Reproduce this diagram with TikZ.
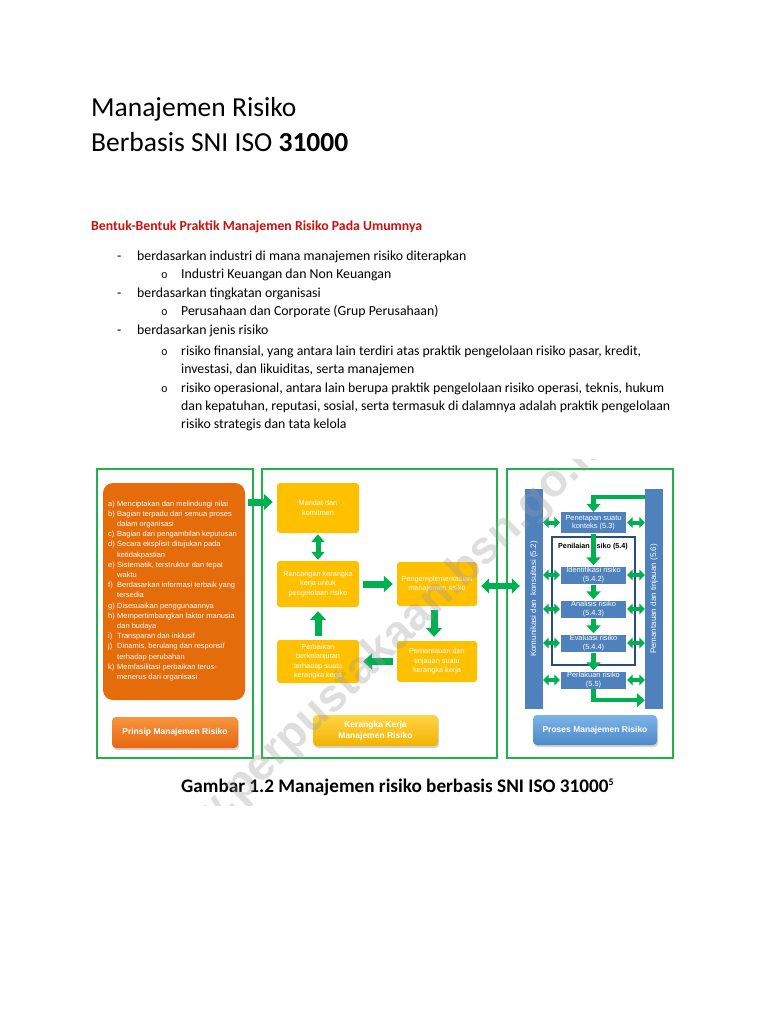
\documentclass[tikz,border=0pt]{standalone}
\usepackage{fontspec}
\setmainfont{Carlito}
\newfontfamily\arialf{Liberation Sans}
\newfontfamily\monof{Liberation Mono}
\usetikzlibrary{arrows.meta,shadows,calc}
\definecolor{grn}{HTML}{00B050}
\definecolor{gframec}{HTML}{22B24C}
\definecolor{orng}{HTML}{E46C0A}
\definecolor{yel}{HTML}{FFC000}
\definecolor{blu}{HTML}{4F81BD}
\definecolor{frmc}{HTML}{2B4C7E}
\definecolor{redh}{HTML}{CC1111}
\definecolor{otop}{HTML}{F8953F}
\definecolor{obot}{HTML}{E8650F}
\definecolor{ytop}{HTML}{FFD447}
\definecolor{ybot}{HTML}{F2B300}
\definecolor{btop}{HTML}{7DB3E8}
\definecolor{bbot}{HTML}{4C89C9}
\tikzset{
 gframe/.style={draw=gframec, line width=1.5pt, inner sep=0},
 ybox/.style={fill=yel, rounded corners=3pt, inner sep=0, text=white, align=center, font=\arialf\fontsize{7.3}{9.4}\selectfont},
 bbox/.style={fill=blu, inner sep=0, minimum width=65pt, minimum height=17pt, text=white, align=center, font=\arialf\fontsize{7.4}{8.2}\selectfont},
 bar/.style={fill=blu, minimum width=18pt, minimum height=220pt, inner sep=0},
 btn/.style={rounded corners=4pt, inner sep=0, text=white, align=center, font=\arialf\bfseries\fontsize{8.5}{11}\selectfont, drop shadow={shadow xshift=1.2pt, shadow yshift=-2pt, opacity=0.35}},
 bigarrow/.style={draw=grn, line width=7pt, -{Triangle[width=16pt,length=9pt]}},
 bigdouble/.style={draw=grn, line width=5pt, {Triangle[width=13pt,length=8pt]}-{Triangle[width=13pt,length=8pt]}},
 smallarrow/.style={draw=grn, line width=5pt, -{Triangle[width=14pt,length=8pt]}},
 smalldouble/.style={draw=grn, line width=4pt, {Triangle[width=11pt,length=5.5pt]}-{Triangle[width=11pt,length=5.5pt]}},
 body/.style={anchor=base west, inner sep=0, font=\fontsize{13.8}{16}\selectfont},
 bul/.style={anchor=base west, inner sep=0, font=\monof\fontsize{11}{13}\selectfont},
 otext/.style={anchor=base west, inner sep=0, text=white, font=\arialf\fontsize{7.5}{9}\selectfont},
}
\newcommand\olin[4]{\node[otext] (ol#1) at (108,#2) {\makebox[9pt][l]{#3}#4};}
\begin{document}
\begin{tikzpicture}[x=1pt,y=-1pt]
\useasboundingbox (0,0) rectangle (768,1024);
\fill[white] (0,0) rectangle (768,1024);

% ---------- text ----------
\node[body] (t1) at (91,117) {\fontsize{27.5}{30}\selectfont Manajemen Risiko};
\node[body] (t2) at (91,152) {\fontsize{27.5}{30}\selectfont Berbasis SNI ISO \textbf{31000}};
\node[body, text=redh] (hd) at (91,231) {\bfseries Bentuk-Bentuk Praktik Manajemen Risiko Pada Umumnya};

\node[body] (d1) at (117,260) {-};
\node[body] (l1) at (137,260) {berdasarkan industri di mana manajemen risiko diterapkan};
\node[bul] (b1) at (161,278) {o};
\node[body] (s1) at (181,278) {Industri Keuangan dan Non Keuangan};
\node[body] (d2) at (117,297) {-};
\node[body] (l2) at (137,297) {berdasarkan tingkatan organisasi};
\node[bul] (b2) at (161,315) {o};
\node[body] (s2) at (181,315) {Perusahaan dan Corporate (Grup Perusahaan)};
\node[body] (d3) at (117,334) {-};
\node[body] (l3) at (137,334) {berdasarkan jenis risiko};
\node[bul] (b3) at (161,355) {o};
\node[body] (s3) at (181,355) {risiko finansial, yang antara lain terdiri atas praktik pengelolaan risiko pasar, kredit,};
\node[body] (s3b) at (181,373) {investasi, dan likuiditas, serta manajemen};
\node[bul] (b4) at (161,392) {o};
\node[body] (s4) at (181,392) {risiko operasional, antara lain berupa praktik pengelolaan risiko operasi, teknis, hukum};
\node[body] (s4b) at (181,410) {dan kepatuhan, reputasi, sosial, serta termasuk di dalamnya adalah praktik pengelolaan};
\node[body] (s4c) at (181,428) {risiko strategis dan tata kelola};

% ---------- frames ----------
\node[gframe, minimum width=156pt, minimum height=289pt] (f1) at (175,613.5) {};
\node[gframe, minimum width=235pt, minimum height=289pt] (f2) at (379.5,613.5) {};
\node[gframe, minimum width=166pt, minimum height=289pt] (f3) at (590,613.5) {};

% ---------- left ----------
\node[fill=orng, rounded corners=10pt, minimum width=142pt, minimum height=217pt, inner sep=0] (orb) at (174,591.5) {};
\olin{0}{506}{a)}{Menciptakan dan melindungi nilai}
\olin{1}{516.2}{b)}{Bagian terpadu dari semua proses}
\olin{2}{526.4}{}{dalam organisasi}
\olin{3}{536.6}{c)}{Bagian dari pengambilan keputusan}
\olin{4}{546.8}{d)}{Secara eksplisit ditujukan pada}
\olin{5}{557}{}{ketidakpastian}
\olin{6}{567.2}{e)}{Sistematik, terstruktur dan tepat}
\olin{7}{577.4}{}{waktu}
\olin{8}{587.6}{f)}{Berdasarkan informasi terbaik yang}
\olin{9}{597.8}{}{tersedia}
\olin{10}{608}{g)}{Disesuaikan penggunaannya}
\olin{11}{618.2}{h)}{Mempertimbangkan faktor manusia}
\olin{12}{628.4}{}{dan budaya}
\olin{13}{638.6}{i)}{Transparan dan inklusif}
\olin{14}{648.8}{j)}{Dinamis, berulang dan responsif}
\olin{15}{659}{}{terhadap perubahan}
\olin{16}{669.2}{k)}{Memfasilitasi perbaikan terus-}
\olin{17}{679.4}{}{menerus dari organisasi}
\node[btn, top color=otop, bottom color=obot, minimum width=126pt, minimum height=31pt] (pbtn) at (175,732.5) {Prinsip Manajemen Risiko};

% ---------- middle ----------
\node[ybox, minimum width=82pt, minimum height=50pt] (mandat) at (318,508) {Mandat dan\\komitmen};
\node[ybox, minimum width=82pt, minimum height=46pt] (ranc) at (318,584) {Rancangan kerangka\\kerja untuk\\pengelolaan risiko};
\node[ybox, minimum width=80pt, minimum height=44pt] (peng) at (437,584) {Pengemplementasian\\manajemen risiko};
\node[ybox, minimum width=80pt, minimum height=41pt] (pem) at (437,661.5) {Pemantauan dan\\tinjauan suatu\\kerangka kerja};
\node[ybox, minimum width=82pt, minimum height=43pt] (perb) at (318,661.5) {Perbaikan\\berkelanjutan\\terhadap suatu\\kerangka kerja};
\node[btn, top color=ytop, bottom color=ybot, minimum width=125pt, minimum height=31pt] (kbtn) at (375.5,730.5) {Kerangka Kerja\\Manajemen Risiko};

% ---------- right ----------
\node[bar] (kom) at (534,599) {};
\node[bar] (pemb) at (654,599) {};
\node[rotate=90, text=white, inner sep=0, font=\arialf\fontsize{8}{9}\selectfont] (komlab) at (kom) {Komunikasi dan\ \ konsultasi (5.2)};
\node[rotate=90, text=white, inner sep=0, font=\arialf\fontsize{8}{9}\selectfont] (pemlab) at (pemb) {Pemantauan dan tinjauan (5.6)};
\node[draw=frmc, line width=1.3pt, fill=white, minimum width=83pt, minimum height=128pt, inner sep=0] (penil) at (593.5,601) {};
\node[text=black, inner sep=0, font=\arialf\bfseries\fontsize{7.2}{8}\selectfont] (penlab) at (593,547) {Penilaian risiko (5.4)};
\node[bbox, minimum height=21pt] (penet) at (593.5,522.5) {Penetapan suatu\\konteks (5.3)};
\node[bbox] (ident) at (593.5,575) {Identifikasi risiko\\(5.4.2)};
\node[bbox] (anal) at (593.5,609) {Analisis risiko\\(5.4.3)};
\node[bbox] (eval) at (593.5,643) {Evaluasi risiko\\(5.4.4)};
\node[bbox] (perl) at (593.5,680) {Perlakuan risiko\\(5.5)};
\node[btn, top color=btop, bottom color=bbot, minimum width=124pt, minimum height=30pt] (prbtn) at (595,730) {Proses Manajemen Risiko};

% ---------- arrows ----------
\draw[bigarrow, shorten <=3pt, shorten >=4pt] ($(orb.east |- mandat.west)+(0,-6)$) -- ($(mandat.west)+(0,-6)$);
\draw[bigdouble, shorten <=1pt, shorten >=1pt] (mandat.south) -- (ranc.north);
\draw[bigarrow, shorten <=4pt, shorten >=4pt] (ranc.east) -- (peng.west);
\draw[bigarrow, shorten <=4pt, shorten >=4pt] ($(peng.south)+(-3,0)$) -- ($(pem.north)+(-3,0)$);
\draw[bigarrow, shorten <=4pt, shorten >=4pt] (pem.west) -- (perb.east);
\draw[bigarrow, shorten <=4pt, shorten >=4pt] (perb.north) -- (ranc.south);
\draw[draw=grn, line width=6pt, {Triangle[width=15pt,length=8pt]}-{Triangle[width=15pt,length=8pt]}, shorten <=4pt, shorten >=5pt] ($(peng.east)+(0,2)$) -- ($(kom.west |- peng.east)+(0,2)$);

\draw[smallarrow, line width=4.5pt] ($(pemb.north west)+(0,8)$) -| (penet.north);
\draw[smallarrow, shorten <=1pt, shorten >=1pt] (penet.south) -- (ident.north);
\draw[smallarrow, shorten <=1pt, shorten >=1pt] (ident.south) -- (anal.north);
\draw[smallarrow, shorten <=1pt, shorten >=1pt] (anal.south) -- (eval.north);
\draw[smallarrow, shorten <=1pt, shorten >=1pt] (eval.south) -- (perl.north);
\draw[smallarrow, line width=4.5pt] (perl.south) |- ($(pemb.south west)+(0,-9)$);
\foreach \b in {penet,ident,anal,eval,perl}{
  \draw[smalldouble, shorten >=1pt] (kom.east |- \b.west) -- (\b.west);
  \draw[smalldouble, shorten <=1pt] (\b.east) -- (pemb.west |- \b.east);
}

% ---------- caption ----------
\node[body, font=\bfseries\fontsize{19.2}{22}\selectfont] (cap) at (181,792) {Gambar 1.2 Manajemen risiko berbasis SNI ISO 31000\raisebox{7pt}{\fontsize{10}{10}\selectfont 5}};

% ---------- watermark ----------
\begin{scope}
\clip (85,459) rectangle (690,805);
\node[anchor=base east, rotate=44, inner sep=0, text=black!40, opacity=0.32, font=\arialf\bfseries\fontsize{46}{46}\selectfont] (wm0) at (240,805) {www.};
\node[anchor=base west, rotate=44, inner sep=0, text=black!40, opacity=0.32, font=\arialf\bfseries\fontsize{46}{46}\selectfont] (wm) at (240,805) {perpustakaan.bsn.go.id};
\end{scope}
\end{tikzpicture}
\end{document}
